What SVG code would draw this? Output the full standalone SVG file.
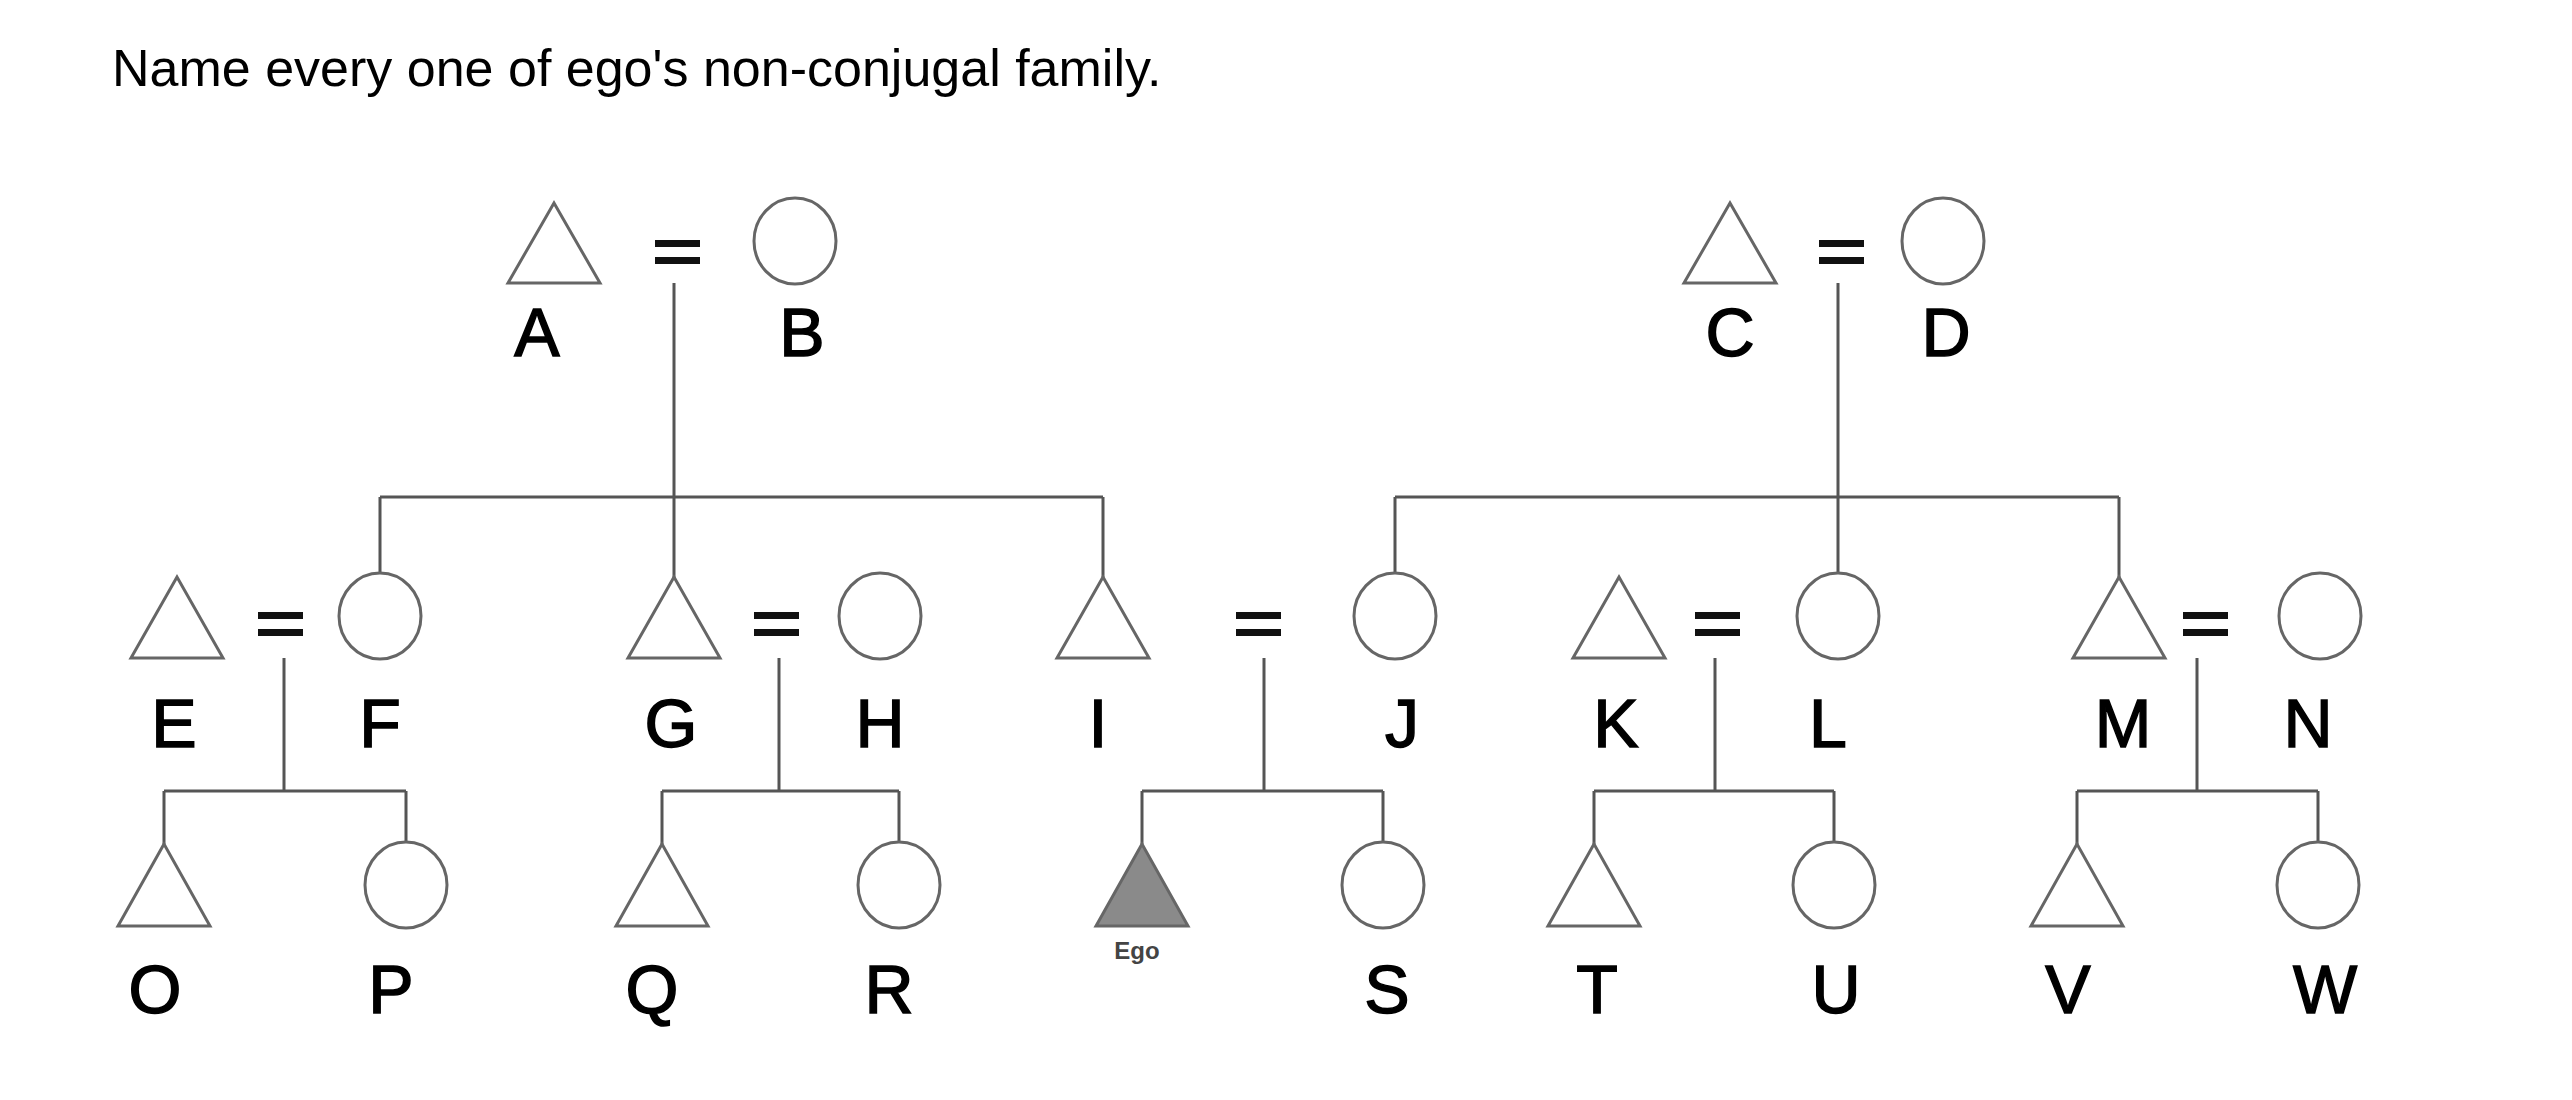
<svg xmlns="http://www.w3.org/2000/svg" width="2572" height="1100" viewBox="0 0 2572 1100">
<style>
.s{fill:#fff;stroke:#666;stroke-width:3}
.e{fill:#fff;stroke:#666;stroke-width:3;fill:#8a8a8a}
.c{fill:none;stroke:#555;stroke-width:3}
.eq{fill:#111}
text{font-family:"Liberation Sans",Arial,sans-serif;fill:#000}
.l{font-size:68px;text-anchor:middle;stroke:#000;stroke-width:1.5}
</style>
<rect width="2572" height="1100" fill="#fff"/>
<text x="112" y="86" font-size="52">Name every one of ego's non-conjugal family.</text>
<g id="connectors">
<path class="c" d="M674 283V624M380 497H1103M380 497V574M1103 497V577"/>
<path class="c" d="M1838 283V574M1395 497H2119M1395 497V574M2119 497V577"/>
<path class="c" d="M284 658V791M164 791H406M164 791V844M406 791V843"/>
<path class="c" d="M779 658V791M662 791H899M662 791V844M899 791V843"/>
<path class="c" d="M1264 658V791M1142 791H1383M1142 791V844M1383 791V843"/>
<path class="c" d="M1715 658V791M1594 791H1834M1594 791V844M1834 791V843"/>
<path class="c" d="M2197 658V791M2077 791H2318M2077 791V844M2318 791V843"/>
</g>
<g id="marriages">
<rect class="eq" x="655" y="240" width="45" height="7"/><rect class="eq" x="655" y="257" width="45" height="7"/>
<rect class="eq" x="1819" y="240" width="45" height="7"/><rect class="eq" x="1819" y="257" width="45" height="7"/>
<rect class="eq" x="258" y="612" width="45" height="7"/><rect class="eq" x="258" y="629" width="45" height="7"/>
<rect class="eq" x="754" y="612" width="45" height="7"/><rect class="eq" x="754" y="629" width="45" height="7"/>
<rect class="eq" x="1236" y="612" width="45" height="7"/><rect class="eq" x="1236" y="629" width="45" height="7"/>
<rect class="eq" x="1695" y="612" width="45" height="7"/><rect class="eq" x="1695" y="629" width="45" height="7"/>
<rect class="eq" x="2183" y="612" width="45" height="7"/><rect class="eq" x="2183" y="629" width="45" height="7"/>
</g>
<g id="A"><polygon class="s" points="554,203 508,283 600,283"/><text class="l" x="537" y="356">A</text></g>
<g id="B"><ellipse class="s" cx="795" cy="241" rx="41" ry="43"/><text class="l" x="802" y="356">B</text></g>
<g id="C"><polygon class="s" points="1730,203 1684,283 1776,283"/><text class="l" x="1730" y="356">C</text></g>
<g id="D"><ellipse class="s" cx="1943" cy="241" rx="41" ry="43"/><text class="l" x="1946" y="356">D</text></g>
<g id="E"><polygon class="s" points="177,577 131,658 223,658"/><text class="l" x="174" y="747">E</text></g>
<g id="F"><ellipse class="s" cx="380" cy="616" rx="41" ry="43"/><text class="l" x="380" y="747">F</text></g>
<g id="G"><polygon class="s" points="674,577 628,658 720,658"/><text class="l" x="671" y="747">G</text></g>
<g id="H"><ellipse class="s" cx="880" cy="616" rx="41" ry="43"/><text class="l" x="880" y="747">H</text></g>
<g id="I"><polygon class="s" points="1103,577 1057,658 1149,658"/><text class="l" x="1098" y="747">I</text></g>
<g id="J"><ellipse class="s" cx="1395" cy="616" rx="41" ry="43"/><text class="l" x="1402" y="747">J</text></g>
<g id="K"><polygon class="s" points="1619,577 1573,658 1665,658"/><text class="l" x="1616" y="747">K</text></g>
<g id="L"><ellipse class="s" cx="1838" cy="616" rx="41" ry="43"/><text class="l" x="1828" y="747">L</text></g>
<g id="M"><polygon class="s" points="2119,577 2073,658 2165,658"/><text class="l" x="2123" y="747">M</text></g>
<g id="N"><ellipse class="s" cx="2320" cy="616" rx="41" ry="43"/><text class="l" x="2308" y="747">N</text></g>
<g id="O"><polygon class="s" points="164,844 118,926 210,926"/><text class="l" x="155" y="1013">O</text></g>
<g id="P"><ellipse class="s" cx="406" cy="885" rx="41" ry="43"/><text class="l" x="391" y="1013">P</text></g>
<g id="Q"><polygon class="s" points="662,844 616,926 708,926"/><text class="l" x="652" y="1013">Q</text></g>
<g id="R"><ellipse class="s" cx="899" cy="885" rx="41" ry="43"/><text class="l" x="889" y="1013">R</text></g>
<g id="Ego"><polygon class="e" points="1142,844 1096,926 1188,926"/><text x="1137" y="959" font-size="24" font-weight="bold" text-anchor="middle" style="fill:#444">Ego</text></g>
<g id="S"><ellipse class="s" cx="1383" cy="885" rx="41" ry="43"/><text class="l" x="1387" y="1013">S</text></g>
<g id="T"><polygon class="s" points="1594,844 1548,926 1640,926"/><text class="l" x="1597" y="1013">T</text></g>
<g id="U"><ellipse class="s" cx="1834" cy="885" rx="41" ry="43"/><text class="l" x="1836" y="1013">U</text></g>
<g id="V"><polygon class="s" points="2077,844 2031,926 2123,926"/><text class="l" x="2068" y="1013">V</text></g>
<g id="W"><ellipse class="s" cx="2318" cy="885" rx="41" ry="43"/><text class="l" x="2325" y="1013">W</text></g>
</svg>
